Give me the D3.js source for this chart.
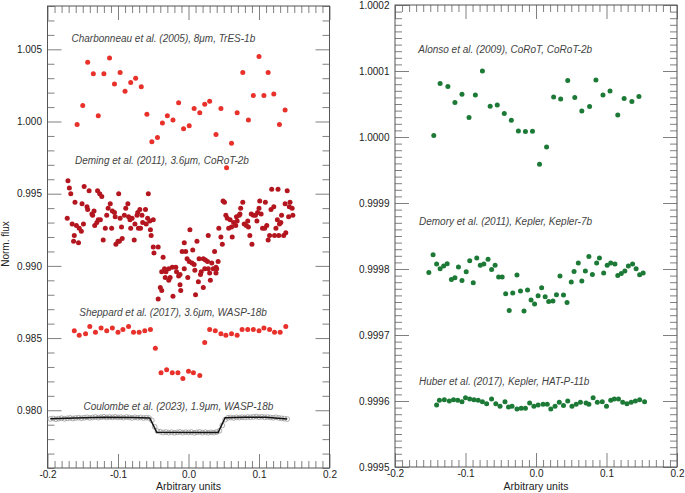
<!DOCTYPE html>
<meta charset="utf-8">
<head>
<script src="https://cdn.jsdelivr.net/npm/d3@7"></script>
<style>
  body { margin: 0; background: #fff; }
  svg text { font-family: "Liberation Sans", Arial, Helvetica, sans-serif; }
  .note { font-style: italic; font-size: 10px; fill: #444; }
</style>
</head>
<body>
<div id="chart"></div>
<script>
// ---- left panel series [x, flux] ----
const charbonneau = [[-0.158,0.9998],[-0.150,1.0011],[-0.143,1.0041],[-0.135,1.0033],[-0.128,1.0004],[-0.120,1.0033],[-0.112,1.0044],[-0.105,1.0026],[-0.097,1.0034],[-0.090,1.0021],
  [-0.082,1.0027],[-0.075,1.0030],[-0.067,1.0024],[-0.059,1.0005],[-0.052,0.9986],[-0.044,0.9989],[-0.037,0.9999],[-0.030,1.0004],[-0.022,1.0001],[-0.014,1.0013],
  [-0.007,0.9995],[0.001,0.9997],[0.008,1.0009],[0.016,1.0006],[0.023,1.0012],[0.030,1.0014],[0.039,0.9991],[0.046,1.0009],[0.054,0.9968],[0.061,0.9985],
  [0.069,1.0006],[0.077,1.0034],[0.085,1.0001],[0.092,1.0018],[0.100,1.0045],[0.107,1.0018],[0.113,1.0034],[0.121,1.0019],[0.129,0.9998],[0.137,1.0008]];

const deming = [[-0.171,0.9959],[-0.169,0.9954],[-0.167,0.9950],[-0.172,0.9933],[-0.161,0.9944],[-0.165,0.9929],[-0.159,0.9928],[-0.162,0.9921],[-0.163,0.9917],[-0.156,0.9916],
  [-0.155,0.9926],[-0.152,0.9924],[-0.149,0.9929],[-0.151,0.9943],[-0.148,0.9955],[-0.141,0.9952],[-0.144,0.9941],[-0.143,0.9939],[-0.137,0.9936],[-0.136,0.9935],
  [-0.134,0.9938],[-0.133,0.9928],[-0.130,0.9930],[-0.128,0.9932],[-0.125,0.9932],[-0.129,0.9952],[-0.126,0.9950],[-0.123,0.9948],[-0.121,0.9918],[-0.118,0.9926],
  [-0.116,0.9935],[-0.114,0.9940],[-0.111,0.9943],[-0.109,0.9926],[-0.108,0.9938],[-0.105,0.9937],[-0.104,0.9934],[-0.103,0.9915],[-0.100,0.9917],[-0.098,0.9917],
  [-0.094,0.9919],[-0.099,0.9950],[-0.097,0.9933],[-0.095,0.9927],[-0.091,0.9935],[-0.089,0.9940],[-0.086,0.9943],[-0.085,0.9934],[-0.083,0.9932],[-0.082,0.9926],
  [-0.080,0.9933],[-0.077,0.9918],[-0.076,0.9929],[-0.073,0.9935],[-0.072,0.9937],[-0.071,0.9926],[-0.069,0.9939],[-0.068,0.9926],[-0.066,0.9935],[-0.065,0.9930],
  [-0.061,0.9939],[-0.060,0.9929],[-0.058,0.9933],[-0.057,0.9950],[-0.055,0.9931],[-0.054,0.9925],[-0.053,0.9921],[-0.050,0.9913],[-0.049,0.9909],[-0.050,0.9932],
  [-0.043,0.9913],
  [-0.036,0.9906],[0.002,0.9925],[0.012,0.9917],[0.028,0.9921],[0.043,0.9926],[0.046,0.9920],[0.048,0.9915],[-0.006,0.9916],[-0.009,0.9910],[-0.004,0.9910],
  [0.006,0.9911],[0.037,0.9910],[-0.002,0.9905],[0.001,0.9903],[0.005,0.9902],[0.008,0.9901],[0.015,0.9905],[0.021,0.9905],[0.024,0.9904],[0.027,0.9903],
  [0.033,0.9902],[0.042,0.9903],[0.039,0.9899],[0.009,0.9897],[0.018,0.9896],[0.023,0.9898],[0.028,0.9898],[0.035,0.9898],[0.040,0.9898],[0.017,0.9894],
  [0.030,0.9895],[0.039,0.9895],[-0.038,0.9896],[-0.034,0.9898],[-0.032,0.9896],[-0.028,0.9898],[-0.023,0.9899],[-0.018,0.9899],[-0.017,0.9896],[-0.033,0.9892],
  [-0.026,0.9892],[-0.028,0.9890],[-0.014,0.9893],[-0.012,0.9894],[-0.006,0.9898],[-0.001,0.9892],[0.014,0.9889],[-0.012,0.9887],[-0.011,0.9883],[0.021,0.9885],
  [0.031,0.9890],[0.010,0.9880],[-0.022,0.9879],[-0.040,0.9885],[-0.038,0.9883],[-0.043,0.9877],
  [0.118,0.9953],[0.127,0.9953],[0.140,0.9952],[0.049,0.9945],[0.051,0.9944],[0.077,0.9944],[0.101,0.9945],[0.109,0.9944],[0.137,0.9943],[0.144,0.9944],
  [0.143,0.9941],[0.147,0.9940],[0.074,0.9940],[0.100,0.9940],[0.121,0.9941],[0.117,0.9939],[0.073,0.9936],[0.089,0.9936],[0.092,0.9935],[0.098,0.9937],
  [0.103,0.9936],[0.095,0.9935],[0.053,0.9935],[0.055,0.9933],[0.068,0.9934],[0.072,0.9935],[0.148,0.9935],[0.132,0.9935],[0.142,0.9934],[0.126,0.9932],
  [0.059,0.9932],[0.069,0.9931],[0.084,0.9931],[0.064,0.9930],[0.079,0.9929],[0.097,0.9931],[0.131,0.9930],[0.067,0.9928],[0.082,0.9928],[0.085,0.9927],
  [0.129,0.9929],[0.061,0.9927],[0.057,0.9926],[0.111,0.9928],[0.108,0.9926],[0.105,0.9926],[0.124,0.9926],[0.138,0.9923],[0.115,0.9921],[0.122,0.9921],
  [0.128,0.9921],[0.135,0.9921],[0.113,0.9918],[0.087,0.9921],[0.062,0.9920],[0.090,0.9915]];

const sheppard = [[-0.162,0.9855],[-0.155,0.9852],[-0.146,0.9853],[-0.140,0.9858],[-0.132,0.9854],[-0.124,0.9857],[-0.116,0.9855],[-0.108,0.9857],[-0.100,0.9854],[-0.093,0.9856],
  [-0.085,0.9858],[-0.078,0.9854],[-0.070,0.9854],[-0.062,0.9855],[-0.054,0.9856],[-0.047,0.9843],[-0.039,0.9826],[-0.031,0.9828],[-0.023,0.9826],[-0.015,0.9826],
  [-0.008,0.9822],[0.000,0.9827],[0.007,0.9826],[0.016,0.9824],[0.023,0.9847],[0.030,0.9856],[0.038,0.9855],[0.046,0.9853],[0.053,0.9852],[0.061,0.9853],
  [0.069,0.9852],[0.076,0.9856],[0.084,0.9856],[0.092,0.9856],[0.100,0.9855],[0.107,0.9857],[0.115,0.9856],[0.122,0.9854],[0.130,0.9854],[0.138,0.9858]];

const coulombePts = [[-0.196,0.97940],[-0.192,0.97943],[-0.188,0.97938],[-0.184,0.97942],[-0.180,0.97945],[-0.176,0.97941],[-0.172,0.97944],[-0.168,0.97947],[-0.164,0.97943],[-0.160,0.97946],
  [-0.156,0.97949],[-0.152,0.97945],[-0.148,0.97948],[-0.144,0.97951],[-0.140,0.97947],[-0.136,0.97950],[-0.132,0.97953],[-0.128,0.97949],[-0.124,0.97952],[-0.120,0.97955],
  [-0.116,0.97950],[-0.112,0.97953],[-0.108,0.97951],[-0.104,0.97954],[-0.100,0.97950],[-0.096,0.97952],[-0.092,0.97949],[-0.088,0.97953],[-0.084,0.97950],[-0.080,0.97947],
  [-0.076,0.97951],[-0.072,0.97948],[-0.068,0.97950],[-0.064,0.97946],[-0.060,0.97949],[-0.056,0.97946],[-0.052,0.97930],[-0.048,0.97885],[-0.044,0.97855],[-0.040,0.97851],
  [-0.036,0.97846],[-0.032,0.97849],[-0.028,0.97845],[-0.024,0.97848],[-0.020,0.97844],[-0.016,0.97847],[-0.012,0.97850],[-0.008,0.97845],[-0.004,0.97848],[0.000,0.97846],
  [0.004,0.97849],[0.008,0.97844],[0.012,0.97847],[0.016,0.97850],[0.020,0.97845],[0.024,0.97848],[0.028,0.97844],[0.032,0.97847],[0.036,0.97845],[0.040,0.97849],
  [0.044,0.97858],[0.048,0.97895],[0.052,0.97935],[0.056,0.97948],[0.060,0.97950],[0.064,0.97947],[0.068,0.97951],[0.072,0.97949],[0.076,0.97952],[0.080,0.97950],
  [0.084,0.97953],[0.088,0.97951],[0.092,0.97954],[0.096,0.97956],[0.100,0.97952],[0.104,0.97955],[0.108,0.97951],[0.112,0.97953],[0.116,0.97950],[0.120,0.97948],
  [0.124,0.97951],[0.128,0.97947],[0.132,0.97944],[0.136,0.97942],[0.140,0.97939]];
const coulombeModel = [[-0.196,0.97941],[-0.16,0.97946],[-0.12,0.97951],[-0.08,0.97950],[-0.055,0.97947],[-0.045,0.97847],
  [0.042,0.97846],[0.052,0.97948],[0.08,0.97951],[0.11,0.97952],[0.14,0.97940]];

// ---- right panel series ----
const alonso = [[-0.145,1.0000021],[-0.136,1.0000810],[-0.125,1.0000764],[-0.115,1.0000522],[-0.105,1.0000647],[-0.095,1.0000294],[-0.086,1.0000637],[-0.076,1.0001001],[-0.065,1.0000465],[-0.055,1.0000485],
  [-0.045,1.0000355],[-0.035,1.0000253],[-0.025,1.0000091],[-0.015,1.0000082],[-0.005,1.0000086],[0.005,0.9999586],[0.015,0.9999848],[0.025,1.0000606],[0.035,1.0000576],[0.045,1.0000855],
  [0.055,1.0000597],[0.065,1.0000394],[0.076,1.0000461],[0.085,1.0000864],[0.095,1.0000637],[0.105,1.0000697],[0.116,1.0000334],[0.125,1.0000582],[0.136,1.0000537],[0.146,1.0000612]];

const demory = [[-0.152,0.9997948],[-0.146,0.9998217],[-0.141,0.9998076],[-0.136,0.9998005],[-0.131,0.9998045],[-0.126,0.9998080],[-0.120,0.9997842],[-0.115,0.9997868],[-0.110,0.9998030],[-0.105,0.9997827],
  [-0.099,0.9997959],[-0.094,0.9998126],[-0.089,0.9997792],[-0.084,0.9998167],[-0.079,0.9998055],[-0.074,0.9998076],[-0.068,0.9998146],[-0.063,0.9997994],[-0.058,0.9998055],[-0.053,0.9997879],
  [-0.048,0.9997879],[-0.043,0.9997626],[-0.038,0.9997372],[-0.033,0.9997636],[-0.027,0.9997909],[-0.022,0.9997666],[-0.017,0.9997363],[-0.012,0.9997682],[-0.007,0.9997530],[-0.002,0.9997469],
  [0.003,0.9997595],[0.008,0.9997717],[0.013,0.9997580],[0.018,0.9997509],[0.024,0.9997515],[0.029,0.9997610],[0.034,0.9997894],[0.039,0.9997606],[0.044,0.9997494],[0.050,0.9997803],
  [0.054,0.9997964],[0.060,0.9998091],[0.065,0.9997818],[0.070,0.9997970],[0.075,0.9998191],[0.080,0.9997918],[0.086,0.9998091],[0.090,0.9998167],[0.096,0.9997939],[0.101,0.9998055],
  [0.106,0.9998091],[0.112,0.9998076],[0.116,0.9997903],[0.121,0.9997933],[0.126,0.9997970],[0.131,0.9998045],[0.137,0.9998076],[0.142,0.9998005],[0.147,0.9997914],[0.152,0.9997939]];

const huber = [[-0.141,0.999594],[-0.137,0.999601],[-0.130,0.999602],[-0.123,0.999600],[-0.117,0.999602],[-0.111,0.999601],[-0.105,0.999599],[-0.100,0.999605],[-0.094,0.999603],[-0.088,0.999602],
  [-0.082,0.999601],[-0.076,0.999599],[-0.070,0.999596],[-0.063,0.999603],[-0.057,0.999596],[-0.051,0.999592],[-0.044,0.999599],[-0.039,0.999591],[-0.034,0.999592],[-0.027,0.999588],
  [-0.021,0.999589],[-0.015,0.999589],[-0.009,0.999597],[-0.003,0.999592],[0.003,0.999594],[0.010,0.999595],[0.016,0.999595],[0.021,0.999588],[0.027,0.999592],[0.033,0.999598],
  [0.039,0.999593],[0.045,0.999600],[0.051,0.999592],[0.057,0.999595],[0.063,0.999598],[0.071,0.999597],[0.075,0.999595],[0.081,0.999605],[0.087,0.999598],[0.094,0.999599],
  [0.100,0.999592],[0.106,0.999601],[0.111,0.999603],[0.117,0.999603],[0.123,0.999598],[0.129,0.999596],[0.135,0.999598],[0.141,0.999600],[0.147,0.999602],[0.154,0.999599]];

// ---- labels: [text, x, y] ----
const leftNotes = [["Charbonneau et al. (2005), 8\u03bcm, TrES-1b", -0.166, 1.00554],
  ["Deming et al. (2011), 3.6\u03bcm, CoRoT-2b", -0.161, 0.99709],
  ["Sheppard et al. (2017), 3.6\u03bcm, WASP-18b", -0.155, 0.98653],
  ["Coulombe et al. (2023), 1.9\u03bcm, WASP-18b", -0.149, 0.98002]];
const rightNotes = [["Alonso et al. (2009), CoRoT, CoRoT-2b", -0.167, 1.000128],
  ["Demory et al. (2011), Kepler, Kepler-7b", -0.166, 0.9998665],
  ["Huber et al. (2017), Kepler, HAT-P-11b", -0.166, 0.9996248]];

const xTicks = d3.range(-20, 21).map(v => v / 100);
const xMajor = [-0.2, -0.1, 0, 0.1, 0.2];
const leftYTicks = d3.range(976, 1009).map(v => v / 1000);
const leftYMajor = [0.980, 0.985, 0.990, 0.995, 1.000, 1.005];
const rightYTicks = d3.range(99950, 100021).map(v => v / 100000);
const rightYMajor = [0.9995, 0.9996, 0.9997, 0.9998, 0.9999, 1.0000, 1.0001, 1.0002];

const red = "#e8312b", darkRed = "#b3161f", green = "#1c7a36";

const svg = d3.select("#chart").append("svg")
    .attr("width", 685)
    .attr("height", 493);

function drawFrame(x, y, yMinor, yMajor, yFmt) {
    const [x0, x1] = x.range();
    const [y0, y1] = y.range();
    const g = svg.append("g");
    const sides = [
        [d3.axisBottom, x, `translate(0,${y0})`, xTicks, xMajor, d => d.toFixed(1), 3],
        [d3.axisTop, x, `translate(0,${y1})`, xTicks, xMajor, "", 3],
        [d3.axisLeft, y, `translate(${x0},0)`, yMinor, yMajor, yFmt, 5.5],
        [d3.axisRight, y, `translate(${x1},0)`, yMinor, yMajor, "", 3]
    ];
    sides.forEach(([axis, sc, tr, minor, major, fmt, pad]) => {
        const minorOnly = minor.filter(v => !major.some(m => Math.abs(m - v) < 1e-9));
        g.append("g").attr("transform", tr)
            .call(axis(sc).tickValues(minorOnly).tickSize(-7).tickFormat(""));
        g.append("g").attr("transform", tr)
            .call(axis(sc).tickValues(major).tickSize(-14).tickPadding(pad).tickFormat(fmt));
    });
    g.selectAll(".domain").remove();
    g.selectAll(".tick line").attr("stroke", "#808080");
    g.selectAll(".tick text").attr("font-size", 10).attr("fill", "#222")
        .attr("font-family", "Liberation Sans, Arial, sans-serif");
    g.append("rect")
        .attr("x", x0).attr("y", y1)
        .attr("width", x1 - x0).attr("height", y0 - y1)
        .attr("fill", "none").attr("stroke", "#555");
    svg.append("text")
        .attr("x", (x0 + x1) / 2).attr("y", 490)
        .attr("text-anchor", "middle").attr("font-size", 10.5).attr("fill", "#222")
        .text("Arbitrary units");
}

function dots(x, y, data, color, r) {
    svg.append("g").selectAll("circle")
        .data(data)
        .enter()
        .append("circle")
        .attr("cx", d => x(d[0]))
        .attr("cy", d => y(d[1]))
        .attr("r", r || 2.5)
        .attr("fill", color);
}

function notes(x, y, list) {
    svg.append("g").selectAll("text")
        .data(list)
        .enter()
        .append("text")
        .attr("class", "note")
        .attr("x", d => x(d[1]))
        .attr("y", d => y(d[2]))
        .text(d => d[0]);
}

// left panel
const xL = d3.scaleLinear().domain([-0.2, 0.2]).range([47.5, 329.5]);
const yL = d3.scaleLinear().domain([0.976, 1.008]).range([468, 6]);
drawFrame(xL, yL, leftYTicks, leftYMajor, d => d.toFixed(3));

dots(xL, yL, charbonneau, red);
dots(xL, yL, deming, darkRed);
dots(xL, yL, sheppard, red);

svg.append("g").selectAll("circle")
    .data(coulombePts)
    .enter()
    .append("circle")
    .attr("cx", d => xL(d[0]))
    .attr("cy", d => yL(d[1]))
    .attr("r", 2.4)
    .attr("fill", "none")
    .attr("stroke", "#999")
    .attr("stroke-width", 0.8);

svg.append("path")
    .datum(coulombeModel)
    .attr("fill", "none")
    .attr("stroke", "#111")
    .attr("stroke-width", 1.5)
    .attr("d", d3.line().x(d => xL(d[0])).y(d => yL(d[1])));

notes(xL, yL, leftNotes);

svg.append("text")
    .attr("transform", "rotate(-90)")
    .attr("x", -244).attr("y", 9)
    .attr("text-anchor", "middle").attr("font-size", 10).attr("fill", "#222")
    .text("Norm. flux");

// right panel
const xR = d3.scaleLinear().domain([-0.2, 0.2]).range([395, 677]);
const yR = d3.scaleLinear().domain([0.9995, 1.0002]).range([467, 5]);
drawFrame(xR, yR, rightYTicks, rightYMajor, d => d.toFixed(4));

dots(xR, yR, alonso, green);
dots(xR, yR, demory, green);
dots(xR, yR, huber, green);

notes(xR, yR, rightNotes);
</script>
</body>
